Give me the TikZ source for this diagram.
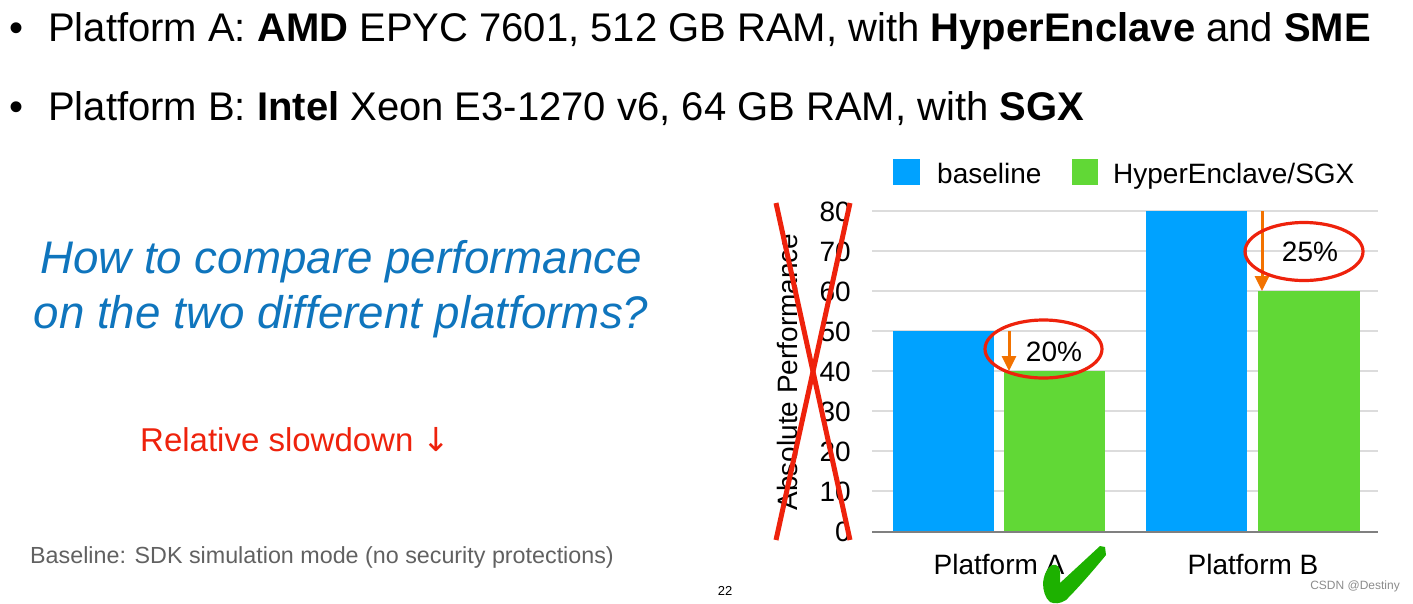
\documentclass[tikz,border=0pt]{standalone}
\usepackage{fontspec}
\setmainfont{Liberation Sans}
\newfontfamily\arrowfont{DejaVu Sans}
\usetikzlibrary{arrows.meta}
\definecolor{barblue}{HTML}{00A2FF}
\definecolor{bargreen}{HTML}{61D836}
\definecolor{droporange}{HTML}{F27200}
\definecolor{markred}{HTML}{EE220C}
\definecolor{checkgreen}{HTML}{1DB100}
\definecolor{askblue}{HTML}{0F75BD}
\definecolor{gridgray}{HTML}{DCDCDC}
\tikzstyle{Head}=[anchor=base west, inner sep=0, font=\fontsize{40}{44}\selectfont]
\tikzstyle{Ask}=[anchor=base, inner sep=0, text=askblue, font=\fontsize{45.7}{50}\selectfont\itshape]
\tikzstyle{Tick}=[anchor=east, inner sep=0, font=\fontsize{28}{32}\selectfont]
\tikzstyle{Chart}=[inner sep=0, font=\fontsize{28}{32}\selectfont]
\tikzstyle{Bar}=[rectangle, anchor=south west, inner sep=0, minimum width=101, draw=none]
\tikzstyle{Drop}=[draw=droporange, line width=3, -{Triangle[length=15,width=14]}]
\tikzstyle{Ring}=[draw=markred, line width=3.2]
\tikzstyle{Cross}=[draw=markred, line width=5]
\begin{document}
\begin{tikzpicture}[x=1pt, y=-1pt]
    \useasboundingbox (0,0) rectangle (1413,603);

    \path
    (9,41) node[Head] (bulletA) {•}
    (48,41) node[Head] (lineA) {Platform A: \textbf{AMD} EPYC 7601, 512 GB RAM, with \textbf{HyperEnclave} and \textbf{SME}}
    (9,120) node[Head] (bulletB) {•}
    (48,120) node[Head] (lineB) {Platform B: \textbf{Intel} Xeon E3-1270 v6, 64 GB RAM, with \textbf{SGX}};

    \path
    (341,273) node[Ask] (askA) {How to compare performance}
    (341,328) node[Ask] (askB) {on the two different platforms?}
    (140,451) node[anchor=base west, inner sep=0, text=markred, font=\fontsize{33}{36}\selectfont] (slow) {Relative slowdown {\arrowfont ↓}}
    (30,563) node[anchor=base west, inner sep=0, text=black!62, font=\fontsize{23.3}{26}\selectfont] (base) {Baseline: SDK simulation mode (no security protections)}
    (725,591) node[inner sep=0, font=\fontsize{13}{15}\selectfont] (page) {22}
    (1355,586) node[inner sep=0, text=black!45, font=\fontsize{12}{15}\selectfont] (mark) {CSDN @Destiny};

    % legend
    \fill[barblue] (893,159) rectangle (920,185);
    \fill[bargreen] (1072,159) rectangle (1098,185);
    \path
    (937,183) node[anchor=base west, Chart] (legA) {baseline}
    (1113,183) node[anchor=base west, Chart] (legB) {HyperEnclave/SGX};

    % grid and ticks
    \foreach \v in {10,20,...,80}
        \draw[gridgray, line width=1.5] (872,531-4*\v) -- (1378,531-4*\v);
    \foreach \v in {0,10,...,80}
        \path (851,532-4*\v) node[Tick] (tick\v) {\v};

    \path
    (893,531) node[Bar, fill=barblue, minimum height=200] (blueA) {}
    (1004,531) node[Bar, fill=bargreen, minimum height=160] (greenA) {}
    (1146,531) node[Bar, fill=barblue, minimum height=320] (blueB) {}
    (1258,531) node[Bar, fill=bargreen, minimum height=240, minimum width=102] (greenB) {};
    \draw[black!50, line width=2] (872,531.5) -- (1378,531.5);

    \path
    (787,372) node[Chart, rotate=90] (ylabel) {Absolute Performance}
    (999,564) node[Chart] (platA) {Platform A}
    (1253,564) node[Chart] (platB) {Platform B}
    (1054,352) node[Chart] (pctA) {20\%}
    (1310,252) node[Chart] (pctB) {25\%};

    \coordinate (fromA) at (1009,331);
    \coordinate (toA) at (1009,371);
    \coordinate (fromB) at (1262,211);
    \coordinate (toB) at (1262,291);
    \draw[Drop] (fromA) -- (toA);
    \draw[Drop] (fromB) -- (toB);

    \draw[Ring] (1043.5,349) ellipse [x radius=58.5, y radius=29];
    \draw[Ring] (1304,251.5) ellipse [x radius=59, y radius=29];

    \draw[Cross] (776,203) -- (850,540);
    \draw[Cross] (850,203) -- (776,540);

    % check mark
    \fill[checkgreen] (1043,583) .. controls (1044,572) and (1050,563) .. (1056,565)
        .. controls (1061,566) and (1060,575) .. (1060,583)
        -- (1100,546) -- (1105,547) -- (1106,555)
        .. controls (1092,572) and (1078,588) .. (1066,600)
        .. controls (1060,604) and (1054,604) .. (1050,602)
        .. controls (1045,598) and (1043,590) .. (1043,583) -- cycle;
\end{tikzpicture}
\end{document}
